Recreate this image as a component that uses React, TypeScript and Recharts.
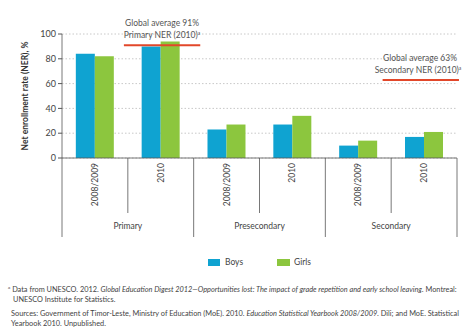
import { BarChart, Bar, XAxis, YAxis, CartesianGrid, ReferenceLine, Label } from "recharts";

const groups = ["Primary", "Primary", "Presecondary", "Presecondary", "Secondary", "Secondary"];
const years = ["2008/2009", "2010", "2008/2009", "2010", "2008/2009", "2010"];
const boys = [84, 90, 23, 27, 10, 17];
const girls = [82, 94, 27, 34, 14, 21];
const yTicks = [0, 20, 40, 60, 80, 100];

// global averages: value, and where the marker starts/ends (in category index units)
const avgValues = [91, 63];
const avgFrom = [0.44, 4.37];
const avgTo = [1.6, 5.53];

const data = years.map((year, i) => ({ idx: i, year, group: groups[i], boys: boys[i], girls: girls[i] }));

const BLUE = "#0fa3d1";
const GREEN = "#8cc63e";
const RED = "#e2472a";
const FONT = "Lato, 'Open Sans', sans-serif";

function YearTick(props: any) {
  const { x, y, payload, index } = props;
  const half = payload?.offset || 33;
  const first = index % 2 === 0;
  return (
    <g>
      <line x1={x - half} y1={y} x2={x - half} y2={first ? y + 79 : y + 55} stroke="#555" strokeWidth={0.8} />
      {index === data.length - 1 && (
        <line x1={x + half} y1={y} x2={x + half} y2={y + 79} stroke="#555" strokeWidth={0.8} />
      )}
      <text
        x={0}
        y={0}
        transform={`translate(${x + 3},${y + 5}) rotate(-90)`}
        textAnchor="end"
        fontSize={8.5}
        fill="#444"
        fontFamily={FONT}
      >
        {payload.value}
      </text>
      {!first && (
        <text x={x - half} y={y + 71} textAnchor="middle" fontSize={8.5} fill="#444" fontFamily={FONT}>
          {data[index].group}
        </text>
      )}
    </g>
  );
}

export default function App() {
  return (
    <div style={{ position: "relative", width: 474, height: 332, background: "#fff", fontFamily: FONT, overflow: "hidden" }}>
      <style>{"body{margin:0}"}</style>
      <BarChart
        width={474}
        height={250}
        data={data}
        margin={{ top: 34, right: 17, left: 22, bottom: 12 }}
        barCategoryGap="21%"
        barGap={0}
      >
        <CartesianGrid vertical={false} stroke="#c8c8c8" strokeDasharray="1.5 2" />
        <XAxis
          dataKey="year"
          interval={0}
          height={80}
          tickSize={0}
          tickMargin={0}
          tickLine={false}
          axisLine={{ stroke: "#555", strokeWidth: 0.8 }}
          tick={<YearTick />}
        />
        <XAxis xAxisId="pos" dataKey="idx" type="number" domain={[-0.5, 5.5]} allowDataOverflow hide />
        <YAxis
          domain={[0, 100]}
          ticks={yTicks}
          width={40}
          tickSize={4}
          tickLine={{ stroke: "#555" }}
          axisLine={{ stroke: "#555", strokeWidth: 0.8 }}
          tick={{ fontSize: 9, fill: "#444", fontFamily: FONT }}
        >
          <Label
            value="Net enrollment rate (NER), %"
            angle={-90}
            position="insideLeft"
            offset={3}
            style={{ fontSize: 8.5, fontWeight: 700, fill: "#333", fontFamily: FONT, textAnchor: "middle" }}
          />
        </YAxis>
        <Bar dataKey="boys" fill={BLUE} isAnimationActive={false} />
        <Bar dataKey="girls" fill={GREEN} isAnimationActive={false} />
        {avgValues.map((v, i) => (
          <ReferenceLine
            key={i}
            xAxisId="pos"
            segment={[{ x: avgFrom[i], y: v }, { x: avgTo[i], y: v }]}
            stroke={RED}
            strokeWidth={2}
            ifOverflow="visible"
          />
        ))}
      </BarChart>
      <svg width={474} height={250} style={{ position: "absolute", left: 0, top: 0, pointerEvents: "none" }}>
        <g fontFamily={FONT} fontSize={8.5} fill="#555" textAnchor="middle">
          <text x={162} y={26}>Global average 91%</text>
          <text x={162} y={38}>
            Primary NER (2010)<tspan fontSize={5} dy={-3}>a</tspan>
          </text>
          <text x={420} y={61}>Global average 63%</text>
          <text x={418} y={73}>
            Secondary NER (2010)<tspan fontSize={5} dy={-3}>a</tspan>
          </text>
        </g>
      </svg>
      <div style={{ position: "absolute", top: 257, left: 208, display: "flex", fontSize: 8.5, color: "#444" }}>
        <div style={{ display: "flex", alignItems: "center", width: 69 }}>
          <span style={{ width: 12, height: 7, background: BLUE, display: "inline-block", marginRight: 5 }} />
          Boys
        </div>
        <div style={{ display: "flex", alignItems: "center" }}>
          <span style={{ width: 13, height: 7, background: GREEN, display: "inline-block", marginRight: 4 }} />
          Girls
        </div>
      </div>
      <div style={{ position: "absolute", top: 283, left: 8, width: 464, fontSize: 7.35, lineHeight: "10px", color: "#444" }}>
        <div>
          <sup style={{ fontSize: 4.5 }}>a</sup> Data from UNESCO. 2012. <i>Global Education Digest 2012—Opportunities lost: The impact of grade repetition and early school leaving.</i> Montreal:
        </div>
        <div style={{ paddingLeft: 5 }}>UNESCO Institute for Statistics.</div>
        <div style={{ marginTop: 4, paddingLeft: 3 }}>
          Sources: Government of Timor-Leste, Ministry of Education (MoE). 2010. <i>Education Statistical Yearbook 2008/2009.</i> Dili; and MoE. Statistical
        </div>
        <div style={{ paddingLeft: 3 }}>Yearbook 2010. Unpublished.</div>
      </div>
    </div>
  );
}
